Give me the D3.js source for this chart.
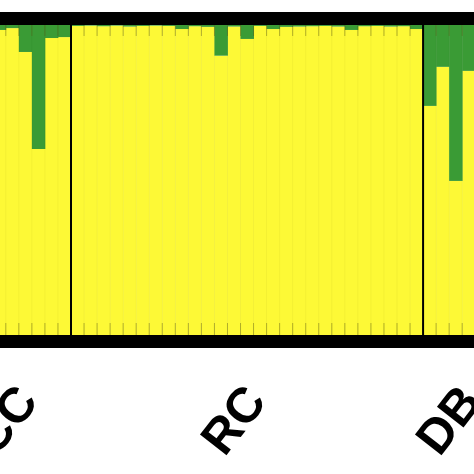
<!DOCTYPE html>
<html>
<head>
<meta charset="utf-8">
<script src="https://cdn.jsdelivr.net/npm/d3@7"></script>
<style>
  html, body { margin: 0; padding: 0; background: #fff; }
  svg { display: block; }
</style>
</head>
<body>
<svg id="chart"></svg>
<script>
// population labels and the green (cluster 2) share of each individual
const groups = ['CC', 'RC', 'DB'];
const ccGreen = [0.010, 0.008, 0.016, 0.010, 0.087, 0.400, 0.042, 0.039];
const rcGreen = [0.003, 0.002, 0.004, 0.002, 0.005, 0.003, 0.002, 0.003, 0.013,
                 0.004, 0.006, 0.099, 0.005, 0.045, 0.003, 0.013, 0.006, 0.005,
                 0.004, 0.003, 0.005, 0.016, 0.004, 0.003, 0.005, 0.004, 0.013];
const dbGreen = [0.261, 0.135, 0.503, 0.148, 0.200, 0.150];

const W = 474, H = 474;
const colW = 13.04;
const rcStart = 71;

// build individual rows: group, green, yellow
const series = [ccGreen, rcGreen, dbGreen];
const rows = [];
series.forEach((arr, g) => {
    arr.forEach(v => rows.push({ group: groups[g], green: v, yellow: 1 - v }));
});

const x0 = rcStart - ccGreen.length * colW;
const x1 = x0 + rows.length * colW;

const x = d3.scaleBand()
    .domain(rows.map((d, i) => i))
    .range([x0, x1])
    .padding(0);

const y = d3.scaleLinear()
    .domain([0, 1])
    .range([335, 25]);

const color = d3.scaleOrdinal()
    .domain(['yellow', 'green'])
    .range(['#fdf936', '#3a9b35']);

const svg = d3.select('#chart')
    .attr('width', W)
    .attr('height', H);

const stack = d3.stack().keys(['yellow', 'green'])(rows);

svg.append('g')
    .selectAll('g')
    .data(stack)
    .join('g')
    .attr('fill', d => color(d.key))
    .selectAll('rect')
    .data(d => d)
    .join('rect')
    .attr('x', (d, i) => x(i))
    .attr('y', d => y(d[1]))
    .attr('width', x.bandwidth() + 0.4)
    .attr('height', d => y(d[0]) - y(d[1]));

// faint lines between individuals
const bounds = rows.map((d, i) => x(i)).slice(1);
svg.append('g')
    .selectAll('line')
    .data(bounds)
    .join('line')
    .attr('x1', d => d).attr('x2', d => d)
    .attr('y1', y(1)).attr('y2', y(0))
    .attr('stroke', 'rgba(0,0,0,0.04)')
    .attr('stroke-width', 1);

// tick marks at top and bottom
const ticks = svg.append('g')
    .attr('stroke', 'rgba(90,90,20,0.45)')
    .attr('stroke-width', 1);
ticks.selectAll('.tb')
    .data(bounds)
    .join('line')
    .attr('class', 'tb')
    .attr('x1', d => d).attr('x2', d => d)
    .attr('y1', y(0)).attr('y2', y(0) - 12);
ticks.selectAll('.tt')
    .data(bounds)
    .join('line')
    .attr('class', 'tt')
    .attr('x1', d => d).attr('x2', d => d)
    .attr('y1', y(1)).attr('y2', y(1) + 11);

// group separators
const sepIdx = [ccGreen.length, ccGreen.length + rcGreen.length];
svg.append('g')
    .selectAll('line')
    .data(sepIdx)
    .join('line')
    .attr('x1', d => x(d)).attr('x2', d => x(d))
    .attr('y1', y(1)).attr('y2', y(0))
    .attr('stroke', '#000')
    .attr('stroke-width', 2);

// thick frame top and bottom
svg.append('line')
    .attr('x1', x0).attr('x2', x1)
    .attr('y1', y(1) - 6.5).attr('y2', y(1) - 6.5)
    .attr('stroke', '#000').attr('stroke-width', 13);
svg.append('line')
    .attr('x1', x0).attr('x2', x1)
    .attr('y1', y(0) + 6.5).attr('y2', y(0) + 6.5)
    .attr('stroke', '#000').attr('stroke-width', 13);

// population labels
let start = 0;
const centers = series.map(arr => {
    const c = x0 + (start + arr.length / 2) * colW;
    start += arr.length;
    return c;
});

svg.append('g')
    .selectAll('text')
    .data(groups)
    .join('text')
    .attr('transform', (d, i) => `translate(${centers[i] + 21},402) rotate(-52)`)
    .attr('text-anchor', 'end')
    .style('font-family', '"Liberation Sans", Arial, sans-serif')
    .style('font-weight', 'bold')
    .style('font-size', '49px')
    .style('fill', '#000')
    .text(d => d);
</script>
</body>
</html>
